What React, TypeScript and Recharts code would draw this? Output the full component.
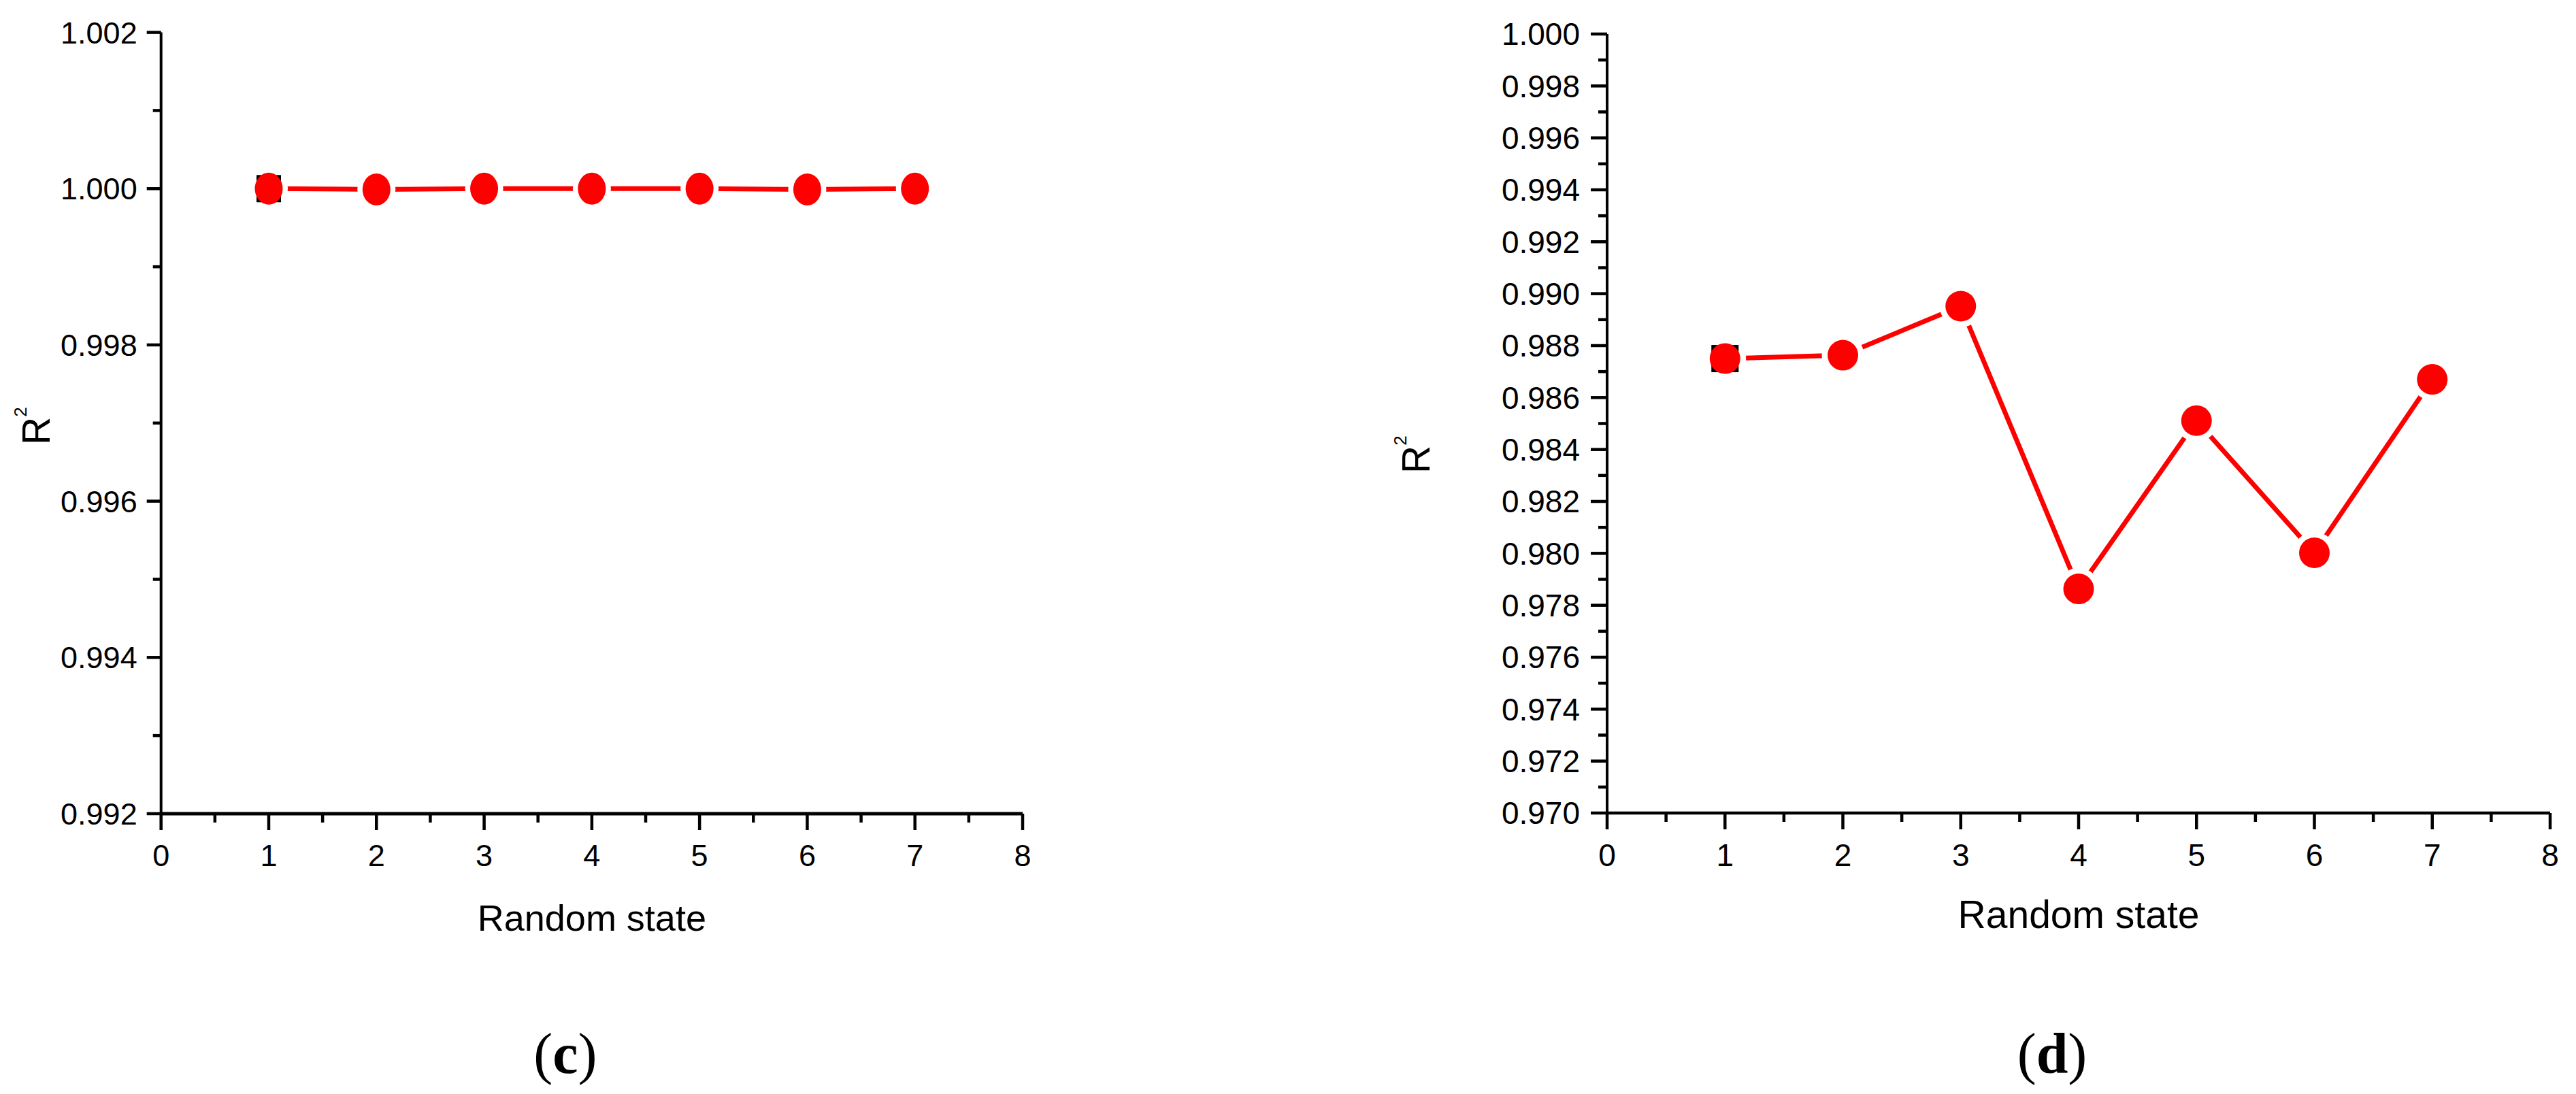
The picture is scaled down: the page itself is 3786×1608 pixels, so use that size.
import React from 'react';
import { LineChart, Line, XAxis, YAxis } from 'recharts';

// ---------------- data ----------------
const randomStates = [1, 2, 3, 4, 5, 6, 7];
const r2PanelC = [1.0, 0.99999, 1.0, 1.0, 1.0, 0.99999, 1.0];
const r2PanelD = [0.9875, 0.98763, 0.98952, 0.97863, 0.98511, 0.98002, 0.9867];
const xTicks = [0, 0.5, 1, 1.5, 2, 2.5, 3, 3.5, 4, 4.5, 5, 5.5, 6, 6.5, 7, 7.5, 8];
const yTicksC = [0.992, 0.993, 0.994, 0.995, 0.996, 0.997, 0.998, 0.999, 1.0, 1.001, 1.002];
const yTicksD = [
  0.97, 0.971, 0.972, 0.973, 0.974, 0.975, 0.976, 0.977, 0.978, 0.979, 0.98,
  0.981, 0.982, 0.983, 0.984, 0.985, 0.986, 0.987, 0.988, 0.989, 0.99,
  0.991, 0.992, 0.993, 0.994, 0.995, 0.996, 0.997, 0.998, 0.999, 1.0,
];
const xDomain = [0, 8];
const yDomainC = [0.992, 1.002];
const yDomainD = [0.97, 1.0];
const xTitle = 'Random state';
const yTitle = 'R';
const yTitleSup = '2';
const panelLetters = ['c', 'd'];

const SANS = '"Liberation Sans", Arial, sans-serif';
const SERIF = '"Liberation Serif", "Times New Roman", serif';

type Cfg = {
  left: number; width: number; height: number;
  margin: { top: number; right: number; bottom: number; left: number };
  yAxisWidth: number; xAxisHeight: number;
  yMajorLen: number; yMinorLen: number; yLabelGap: number;
  xMajorLen: number; xMinorLen: number; xLabelDy: number;
  tickFont: number; tickStroke: number; yAxisStroke: number; xAxisStroke: number;
  xTitleFont: number; xTitleDy: number;
  panelDx: number; panelDy: number; panelFont: number;
  rTitleX: number; rTitleY: number; rFont: number; supFont: number; supDy: number;
  markerRx: number; markerRy: number; haloRx: number; haloRy: number;
  squareW: number; squareH: number; lineWidth: number;
};

const cfgC: Cfg = {
  left: 0, width: 1800, height: 1608,
  margin: { top: 47.6, right: 297, bottom: 0, left: 0 },
  yAxisWidth: 236.7, xAxisHeight: 412,
  yMajorLen: 21, yMinorLen: 12, yLabelGap: 35,
  xMajorLen: 24, xMinorLen: 13, xLabelDy: 77,
  tickFont: 45, tickStroke: 4.5, yAxisStroke: 4, xAxisStroke: 5,
  xTitleFont: 54, xTitleDy: 172,
  panelDx: -39, panelDy: 381, panelFont: 84,
  rTitleX: 73, rTitleY: 654, rFont: 57, supFont: 26, supDy: -34,
  markerRx: 20.5, markerRy: 23.5, haloRx: 28, haloRy: 32,
  squareW: 36, squareH: 40, lineWidth: 7,
};

const cfgD: Cfg = {
  left: 1800, width: 1986, height: 1608,
  margin: { top: 50, right: 38, bottom: 0, left: 0 },
  yAxisWidth: 562, xAxisHeight: 413,
  yMajorLen: 24, yMinorLen: 13, yLabelGap: 40,
  xMajorLen: 24, xMinorLen: 13, xLabelDy: 78,
  tickFont: 46, tickStroke: 4.5, yAxisStroke: 4, xAxisStroke: 4.5,
  xTitleFont: 57, xTitleDy: 169,
  panelDx: -39, panelDy: 382, panelFont: 84,
  rTitleX: 301, rTitleY: 696, rFont: 57, supFont: 26, supDy: -34,
  markerRx: 22.5, markerRy: 22.5, haloRx: 31, haloRy: 31,
  squareW: 40, squareH: 40, lineWidth: 7,
};

const isMajorY = (v: number) => Math.round(v * 1000) % 2 === 0;

function Panel({ cfg, values, yTicks, yDomain, letter }: { cfg: Cfg; values: number[]; yTicks: number[]; yDomain: number[]; letter: string }) {
  const data = randomStates.map((x, i) => ({ x, r2: values[i] }));

  const xTick = (props: any) => {
    const { x, y, payload, index } = props;
    const v = payload.value as number;
    const major = Number.isInteger(v);
    return (
      <g key={`xt${index}`}>
        <line x1={x} x2={x} y1={y} y2={y + (major ? cfg.xMajorLen : cfg.xMinorLen)} stroke="#000" strokeWidth={cfg.tickStroke} />
        {major && (
          <text x={x} y={y + cfg.xLabelDy} textAnchor="middle" fontSize={cfg.tickFont} fontFamily={SANS} fill="#000">
            {String(v)}
          </text>
        )}
      </g>
    );
  };

  const yTick = (props: any) => {
    const { x, y, payload, index } = props;
    const v = payload.value as number;
    const major = isMajorY(v);
    return (
      <g key={`yt${index}`}>
        <line x1={x - (major ? cfg.yMajorLen : cfg.yMinorLen)} x2={x} y1={y} y2={y} stroke="#000" strokeWidth={cfg.tickStroke} />
        {major && (
          <text x={x - cfg.yLabelGap} y={y + cfg.tickFont * 0.358} textAnchor="end" fontSize={cfg.tickFont} fontFamily={SANS} fill="#000">
            {v.toFixed(3)}
          </text>
        )}
      </g>
    );
  };

  const dot = (props: any) => {
    const { cx, cy, index } = props;
    if (cx == null || cy == null) return <g key={`d${index}`} />;
    return (
      <g key={`d${index}`}>
        <ellipse cx={cx} cy={cy} rx={cfg.haloRx} ry={cfg.haloRy} fill="#ffffff" />
        {index === 0 && (
          <rect x={cx - cfg.squareW / 2} y={cy - cfg.squareH / 2} width={cfg.squareW} height={cfg.squareH} fill="#000000" />
        )}
        <ellipse cx={cx} cy={cy} rx={cfg.markerRx} ry={cfg.markerRy} fill="#ff0000" />
      </g>
    );
  };

  const xLabel = (props: any) => {
    const vb = props.viewBox || { x: 0, y: 0, width: 0, height: 0 };
    const cx = vb.x + vb.width / 2;
    return (
      <g>
        <text x={cx} y={vb.y + cfg.xTitleDy} textAnchor="middle" fontSize={cfg.xTitleFont} fontFamily={SANS} fill="#000">
          {xTitle}
        </text>
        <text x={cx + cfg.panelDx} y={vb.y + cfg.panelDy} textAnchor="middle" fontSize={cfg.panelFont} fontFamily={SERIF} fill="#000">
          (<tspan fontWeight="bold">{letter}</tspan>)
        </text>
      </g>
    );
  };

  const yLabel = (props: any) => {
    const vb = props.viewBox || { x: 0, y: 0 };
    const bx = vb.x + cfg.rTitleX;
    const by = cfg.rTitleY;
    return (
      <text x={bx} y={by} transform={`rotate(-90, ${bx}, ${by})`} textAnchor="start" fontSize={cfg.rFont} fontFamily={SANS} fill="#000">
        <tspan>{yTitle}</tspan>
        <tspan fontSize={cfg.supFont} dy={cfg.supDy}>{yTitleSup}</tspan>
      </text>
    );
  };

  return (
    <div style={{ position: 'absolute', left: cfg.left, top: 0, width: cfg.width, height: cfg.height }}>
      <LineChart width={cfg.width} height={cfg.height} data={data} margin={cfg.margin}>
        <XAxis
          dataKey="x"
          type="number"
          domain={xDomain}
          ticks={xTicks}
          interval={0}
          allowDataOverflow
          height={cfg.xAxisHeight}
          tickSize={0}
          tickMargin={0}
          tickLine={false}
          axisLine={{ stroke: '#000', strokeWidth: cfg.xAxisStroke }}
          tick={xTick}
          label={xLabel}
        />
        <YAxis
          type="number"
          domain={yDomain}
          ticks={yTicks}
          interval={0}
          allowDataOverflow
          width={cfg.yAxisWidth}
          tickSize={0}
          tickMargin={0}
          tickLine={false}
          axisLine={{ stroke: '#000', strokeWidth: cfg.yAxisStroke }}
          tick={yTick}
          label={yLabel}
        />
        <Line
          type="linear"
          dataKey="r2"
          stroke="#ff0000"
          strokeWidth={cfg.lineWidth}
          strokeLinecap="round"
          strokeLinejoin="round"
          dot={dot}
          activeDot={false}
          isAnimationActive={false}
        />
      </LineChart>
    </div>
  );
}

export default function App() {
  return (
    <div style={{ position: 'absolute', left: 0, top: 0, width: 3786, height: 1608, background: '#ffffff', overflow: 'hidden' }}>
      <Panel cfg={cfgC} values={r2PanelC} yTicks={yTicksC} yDomain={yDomainC} letter={panelLetters[0]} />
      <Panel cfg={cfgD} values={r2PanelD} yTicks={yTicksD} yDomain={yDomainD} letter={panelLetters[1]} />
    </div>
  );
}
